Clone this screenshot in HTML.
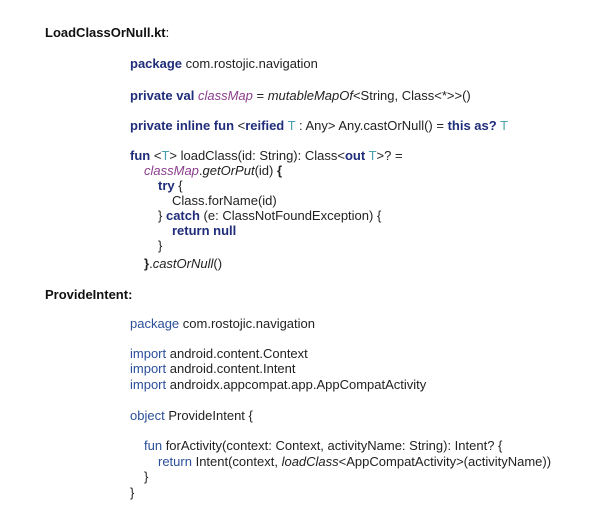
<!DOCTYPE html>
<html><head><meta charset="utf-8"><style>
body{margin:0;width:600px;height:509px;background:#fff;position:relative;font-family:"Liberation Sans",Arial,sans-serif;font-size:13px;color:#222;overflow:hidden}
.l{position:absolute;white-space:pre;line-height:15px}
.k{color:#1f2d7a;font-weight:bold}
.t{color:#4aa0ac}
.p{color:#8a3f8e;font-style:italic}
.i{font-style:italic}
.b{color:#2b4f9a}
.h{font-weight:bold;color:#111}
</style></head><body>
<div class="l h" style="left:45px;top:25px">LoadClassOrNull.kt<span style="font-weight:normal">:</span></div>
<div class="l" style="left:130px;top:56px"><span class="k">package</span> com.rostojic.navigation</div>
<div class="l" style="left:130px;top:88px"><span class="k">private val</span> <span class="p">classMap</span> = <span class="i">mutableMapOf</span>&lt;String, Class&lt;*&gt;&gt;()</div>
<div class="l" style="left:130px;top:118px"><span class="k">private inline fun</span> &lt;<span class="k">reified</span> <span class="t">T</span> : Any&gt; Any.castOrNull() = <span class="k">this as?</span> <span class="t">T</span></div>
<div class="l" style="left:130px;top:148px"><span class="k">fun</span> &lt;<span class="t">T</span>&gt; loadClass(id: String): Class&lt;<span class="k">out</span> <span class="t">T</span>&gt;? =</div>
<div class="l" style="left:144px;top:163px"><span class="p">classMap</span>.<span class="i">getOrPut</span>(id) <b>{</b></div>
<div class="l" style="left:158px;top:178px"><span class="k">try</span> {</div>
<div class="l" style="left:172px;top:193px">Class.forName(id)</div>
<div class="l" style="left:158px;top:208px">} <span class="k">catch</span> (e: ClassNotFoundException) {</div>
<div class="l" style="left:172px;top:223px"><span class="k">return null</span></div>
<div class="l" style="left:158px;top:238px">}</div>
<div class="l" style="left:144px;top:256px"><b>}</b>.<span class="i">castOrNull</span>()</div>
<div class="l h" style="left:45px;top:287px">ProvideIntent:</div>
<div class="l" style="left:130px;top:316px"><span class="b">package</span> com.rostojic.navigation</div>
<div class="l" style="left:130px;top:346px"><span class="b">import</span> android.content.Context</div>
<div class="l" style="left:130px;top:361px"><span class="b">import</span> android.content.Intent</div>
<div class="l" style="left:130px;top:377px"><span class="b">import</span> androidx.appcompat.app.AppCompatActivity</div>
<div class="l" style="left:130px;top:408px"><span class="b">object</span> ProvideIntent {</div>
<div class="l" style="left:144px;top:438px"><span class="b">fun</span> forActivity(context: Context, activityName: String): Intent? {</div>
<div class="l" style="left:158px;top:454px"><span class="b">return</span> Intent(context, <span class="i">loadClass</span>&lt;AppCompatActivity&gt;(activityName))</div>
<div class="l" style="left:144px;top:469px">}</div>
<div class="l" style="left:130px;top:485px">}</div>
</body></html>
